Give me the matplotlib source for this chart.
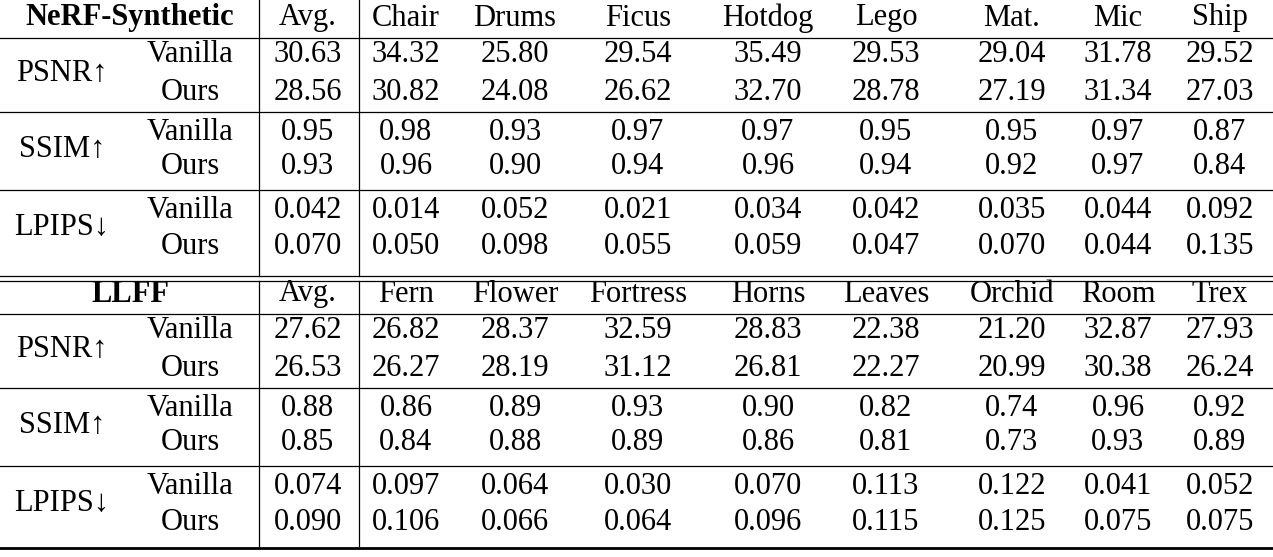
import matplotlib
matplotlib.use("Agg")
import matplotlib.pyplot as plt

cols_syn = ["Avg.", "Chair", "Drums", "Ficus", "Hotdog", "Lego", "Mat.", "Mic", "Ship"]
cols_llff = ["Avg.", "Fern", "Flower", "Fortress", "Horns", "Leaves", "Orchid", "Room", "Trex"]
metrics = ["PSNR↑", "SSIM↑", "LPIPS↓"]
methods = ["Vanilla", "Ours"]
syn = [
    ["30.63", "34.32", "25.80", "29.54", "35.49", "29.53", "29.04", "31.78", "29.52"],
    ["28.56", "30.82", "24.08", "26.62", "32.70", "28.78", "27.19", "31.34", "27.03"],
    ["0.95", "0.98", "0.93", "0.97", "0.97", "0.95", "0.95", "0.97", "0.87"],
    ["0.93", "0.96", "0.90", "0.94", "0.96", "0.94", "0.92", "0.97", "0.84"],
    ["0.042", "0.014", "0.052", "0.021", "0.034", "0.042", "0.035", "0.044", "0.092"],
    ["0.070", "0.050", "0.098", "0.055", "0.059", "0.047", "0.070", "0.044", "0.135"],
]
llff = [
    ["27.62", "26.82", "28.37", "32.59", "28.83", "22.38", "21.20", "32.87", "27.93"],
    ["26.53", "26.27", "28.19", "31.12", "26.81", "22.27", "20.99", "30.38", "26.24"],
    ["0.88", "0.86", "0.89", "0.93", "0.90", "0.82", "0.74", "0.96", "0.92"],
    ["0.85", "0.84", "0.88", "0.89", "0.86", "0.81", "0.73", "0.93", "0.89"],
    ["0.074", "0.097", "0.064", "0.030", "0.070", "0.113", "0.122", "0.041", "0.052"],
    ["0.090", "0.106", "0.066", "0.064", "0.096", "0.115", "0.125", "0.075", "0.075"],
]

W, H = 1273, 557
fig = plt.figure(figsize=(W / 100, H / 100), dpi=100)
ax = fig.add_axes([0, 0, 1, 1])
ax.set_xlim(0, W); ax.set_ylim(H, 0); ax.axis("off")
fam = ["Liberation Serif", "DejaVu Serif"]
fs = 22
xc = [308, 406, 515, 638, 768, 886, 1012, 1118, 1220]

def block(y0, title, cols, data):
    ax.text(130, y0, title, ha="center", va="center", fontsize=fs, family=fam, fontweight="bold")
    for x, c in zip(xc, cols):
        ax.text(x, y0, c, ha="center", va="center", fontsize=fs, family=fam)
    ys = [y0 + 37, y0 + 74, y0 + 114, y0 + 149, y0 + 192, y0 + 228]
    for i, row in enumerate(data):
        y = ys[i]
        ax.text(190, y, methods[i % 2], ha="center", va="center", fontsize=fs, family=fam)
        for x, v in zip(xc, row):
            ax.text(x, y, v, ha="center", va="center", fontsize=fs, family=fam)
    for k, m in enumerate(metrics):
        ax.text(62, (ys[2 * k] + ys[2 * k + 1]) / 2, m, ha="center", va="center", fontsize=fs, family=fam)
    for d in (20, 94, 172):
        ax.plot([0, W], [y0 + d, y0 + d], color="black", lw=0.9)

block(18, "NeRF-Synthetic", cols_syn, syn)
block(294, "LLFF", cols_llff, llff)
ax.plot([0, W], [276, 276], color="black", lw=0.9)
ax.plot([0, W], [281, 281], color="black", lw=0.9)
ax.plot([0, W], [548, 548], color="black", lw=2.0)
for x in (259, 359):
    ax.plot([x, x], [0, 276], color="black", lw=0.9)
    ax.plot([x, x], [281, 546], color="black", lw=0.9)
fig.savefig("out.png", dpi=100)
